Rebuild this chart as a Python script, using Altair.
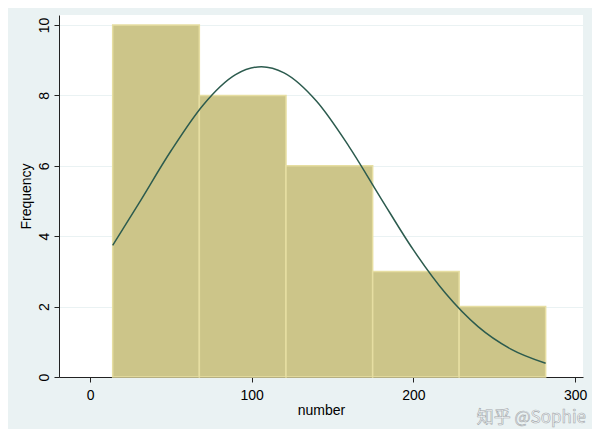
import altair as alt
import pandas as pd

# Histogram bins
bin_start = [14.0, 67.6, 121.2, 174.8, 228.3]
bin_end = [67.6, 121.2, 174.8, 228.3, 281.8]
counts = [10, 8, 6, 3, 2]

# Normal-density overlay, points
curve_x = [14, 30, 50, 70, 90, 106, 120, 140, 160, 180, 200, 220, 240, 260, 281.8]
curve_y = [3.74, 4.92, 6.42, 7.73, 8.59, 8.815, 8.64, 7.84, 6.56, 5.07, 3.61, 2.37, 1.43, 0.80, 0.39]

x_ticks = [0, 100, 200, 300]
y_ticks = [0, 2, 4, 6, 8, 10]

bars_df = pd.DataFrame({"x": bin_start, "x2": bin_end, "y": counts})
curve_df = pd.DataFrame({"x": curve_x, "y": curve_y})

FONT = "Liberation Sans"
xscale = alt.Scale(domain=[-19.2, 304.9], nice=False, zero=False)
yscale = alt.Scale(domain=[0, 10.284], nice=False)

bars = alt.Chart(bars_df).mark_rect(
    color="#CCC589", stroke="#E6DEA2", strokeWidth=1.5
).encode(
    x=alt.X("x:Q", scale=xscale,
            axis=alt.Axis(values=x_ticks, title="number", grid=False,
                          labelPadding=6)),
    x2="x2:Q",
    y=alt.Y("y:Q", scale=yscale,
            axis=alt.Axis(values=y_ticks, title="Frequency", grid=True,
                          labelAngle=270, labelAlign="center",
                          labelBaseline="bottom")),
    y2=alt.datum(0),
)

curve = alt.Chart(curve_df).mark_line(
    color="#2C5B4E", strokeWidth=1.5, interpolate="monotone"
).encode(
    x=alt.X("x:Q", scale=xscale),
    y=alt.Y("y:Q", scale=yscale),
)

wm_df = pd.DataFrame({"t": ["知乎 @Sophie"]})
wm = alt.Chart(wm_df).mark_text(
    font="Noto Sans CJK SC", fontSize=17, fill="#F7F9FA", stroke="#A3A8AC",
    strokeWidth=0.6, align="right", baseline="middle"
).encode(x=alt.value(527), y=alt.value(403), text="t:N")

chart = alt.layer(bars, curve, wm).properties(
    width=524, height=362,
    autosize=alt.AutoSizeParams(type="none"),
    padding={"left": 51, "top": 7, "right": 9, "bottom": 52},
    background="#EAF2F3",
).configure_view(
    fill="white", stroke=None
).configure_axis(
    labelFont=FONT, titleFont=FONT, labelFontSize=14, titleFontSize=14,
    labelColor="black", titleColor="black", titleFontWeight="normal",
    domainColor="#222222", tickColor="#222222", tickSize=5,
    gridColor="#EAF2F3", gridWidth=1, labelPadding=3,
).configure_axisX(
    titlePadding=1
).configure_axisY(
    titlePadding=4
)

chart.save("out.html", embed_options={"renderer": "svg", "actions": False})
